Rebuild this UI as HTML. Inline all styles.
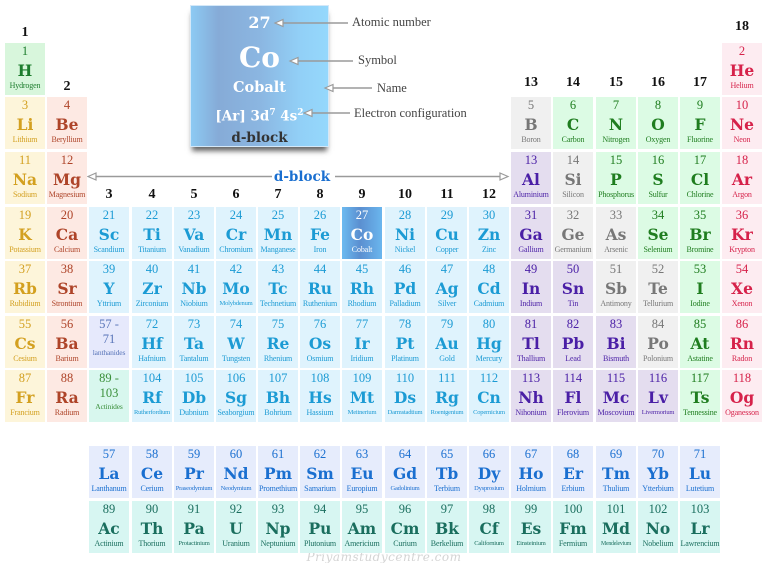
<!DOCTYPE html>
<html><head><meta charset="utf-8">
<style>
*{margin:0;padding:0;box-sizing:border-box}
body{width:768px;height:563px;background:#fff;position:relative;overflow:hidden;font-family:"DejaVu Serif","Liberation Serif",serif}
.c{position:absolute;width:40px;height:52px;text-align:center}
.c span{position:absolute;left:-2px;right:-2px;display:block;white-space:nowrap}
.n{top:1px;font-family:"Liberation Serif",serif;font-size:12.5px;line-height:14px}
.s{top:18px;font-size:15.5px;font-weight:bold;line-height:20px}
.m{top:38px;font-family:"Liberation Serif",serif;font-size:8px;line-height:10px;letter-spacing:-0.15px}
.m.sm{font-size:6.5px;letter-spacing:-0.2px}
.h{background:#d8f6dc;color:#1d7d2d}
.al{background:#fdf5da;color:#d3a020}
.ae{background:#fde9e3;color:#ae4429}
.tm{background:#dff3fd;color:#1c9bd4}
.co{background:linear-gradient(to right,#6cbaf0,#5b8fd0 45%,#6ab6ee);color:#fff}
.pt{background:#e4ddef;color:#4a1fa6}
.md{background:#f0f0f0;color:#777}
.nm{background:#dcfbe4;color:#1f7d1f}
.ng{background:#fdecf1;color:#d6224a}
.la{background:#e6ecfc;color:#1a6fd0}
.ac{background:#d7f6f2;color:#1a6e5e}
.lph{background:#e6e9fc;color:#5874b8}
.aph{background:#d8f7ee;color:#3a8f3a}
.g{position:absolute;width:40px;text-align:center;font-family:"Liberation Serif",serif;font-weight:bold;font-size:14px;line-height:16px;color:#111}
.lg{position:absolute;left:190px;top:5px;width:139px;height:142px;border:1px solid #d4e8f8;background:linear-gradient(to right,#8ccaf3 0%,#86abd7 20%,#8bb6e1 50%,#92d0f7 80%,#95d8fc 100%);box-shadow:0 6px 5px -2px rgba(50,50,50,.75);color:#fff;text-align:center;font-weight:bold}
.lg div{position:absolute;left:0;right:0;white-space:nowrap}
.ann{position:absolute;font-family:"Liberation Serif",serif;font-size:12.5px;color:#444;line-height:14px;white-space:nowrap}
</style></head><body>

<!-- legend -->
<div class="lg">
<div style="top:7px;font-size:16px;line-height:20px">27</div>
<div style="top:35px;font-size:28px;line-height:34px">Co</div>
<div style="top:73px;font-size:14.5px;line-height:18px">Cobalt</div>
<div style="top:98px;font-size:13.5px;line-height:18px">[Ar] 3d<sup style="font-size:9px">7</sup> 4s<sup style="font-size:9px">2</sup></div>
<div style="top:123px;font-size:13.5px;line-height:18px;color:#333">d-block</div>
</div>
<div class="ann" style="left:352px;top:15px">Atomic number</div>
<div class="ann" style="left:358px;top:53px">Symbol</div>
<div class="ann" style="left:377px;top:81px">Name</div>
<div class="ann" style="left:354px;top:106px">Electron configuration</div>

<svg style="position:absolute;left:0;top:0" width="768" height="563">
<g stroke="#9a9a9a" stroke-width="1.5" fill="none">
<line x1="282" y1="23" x2="348" y2="23"/>
<line x1="297" y1="61" x2="353" y2="61"/>
<line x1="332" y1="88" x2="372" y2="88"/>
<line x1="311" y1="113" x2="350" y2="113"/>
<line x1="95" y1="176.5" x2="272" y2="176.5"/>
<line x1="335" y1="176.5" x2="501" y2="176.5"/>
</g>
<g stroke="#9a9a9a" stroke-width="1.2" fill="#fff">
<polygon points="275,23 283,19.5 283,26.5"/>
<polygon points="290,61 298,57.5 298,64.5"/>
<polygon points="325,88 333,84.5 333,91.5"/>
<polygon points="304,113 312,109.5 312,116.5"/>
<polygon points="88,176.5 96,173 96,180"/>
<polygon points="508,176.5 500,173 500,180"/>
</g>
<text x="302" y="181" text-anchor="middle" font-family="DejaVu Serif" font-weight="bold" font-size="13.5" fill="#1a6fd0">d-block</text>
<text x="384" y="561" text-anchor="middle" font-family="DejaVu Serif" font-style="italic" font-size="12" fill="#d4d4d4" letter-spacing="0.5">Priyamstudycentre.com</text>
</svg>

<!-- group labels -->
<div class="g" style="left:5px;top:25px">1</div>
<div class="g" style="left:47px;top:79px">2</div>
<div class="g" style="left:89px;top:187px">3</div>
<div class="g" style="left:132px;top:187px">4</div>
<div class="g" style="left:174px;top:187px">5</div>
<div class="g" style="left:216px;top:187px">6</div>
<div class="g" style="left:258px;top:187px">7</div>
<div class="g" style="left:300px;top:187px">8</div>
<div class="g" style="left:342px;top:187px">9</div>
<div class="g" style="left:385px;top:187px">10</div>
<div class="g" style="left:427px;top:187px">11</div>
<div class="g" style="left:469px;top:187px">12</div>
<div class="g" style="left:511px;top:75px">13</div>
<div class="g" style="left:553px;top:75px">14</div>
<div class="g" style="left:596px;top:75px">15</div>
<div class="g" style="left:638px;top:75px">16</div>
<div class="g" style="left:680px;top:75px">17</div>
<div class="g" style="left:722px;top:19px">18</div>

<!-- row 1 -->
<div class="c h" style="left:5px;top:43px"><span class="n">1</span><span class="s">H</span><span class="m">Hydrogen</span></div>
<div class="c ng" style="left:722px;top:43px"><span class="n">2</span><span class="s">He</span><span class="m">Helium</span></div>

<!-- row 2 -->
<div class="c al" style="left:5px;top:97px"><span class="n">3</span><span class="s">Li</span><span class="m">Lithium</span></div>
<div class="c ae" style="left:47px;top:97px"><span class="n">4</span><span class="s">Be</span><span class="m">Beryllium</span></div>
<div class="c md" style="left:511px;top:97px"><span class="n">5</span><span class="s">B</span><span class="m">Boron</span></div>
<div class="c nm" style="left:553px;top:97px"><span class="n">6</span><span class="s">C</span><span class="m">Carbon</span></div>
<div class="c nm" style="left:596px;top:97px"><span class="n">7</span><span class="s">N</span><span class="m">Nitrogen</span></div>
<div class="c nm" style="left:638px;top:97px"><span class="n">8</span><span class="s">O</span><span class="m">Oxygen</span></div>
<div class="c nm" style="left:680px;top:97px"><span class="n">9</span><span class="s">F</span><span class="m">Fluorine</span></div>
<div class="c ng" style="left:722px;top:97px"><span class="n">10</span><span class="s">Ne</span><span class="m">Neon</span></div>

<!-- row 3 -->
<div class="c al" style="left:5px;top:152px"><span class="n">11</span><span class="s">Na</span><span class="m">Sodium</span></div>
<div class="c ae" style="left:47px;top:152px"><span class="n">12</span><span class="s">Mg</span><span class="m">Magnesium</span></div>
<div class="c pt" style="left:511px;top:152px"><span class="n">13</span><span class="s">Al</span><span class="m">Aluminium</span></div>
<div class="c md" style="left:553px;top:152px"><span class="n">14</span><span class="s">Si</span><span class="m">Silicon</span></div>
<div class="c nm" style="left:596px;top:152px"><span class="n">15</span><span class="s">P</span><span class="m">Phosphorus</span></div>
<div class="c nm" style="left:638px;top:152px"><span class="n">16</span><span class="s">S</span><span class="m">Sulfur</span></div>
<div class="c nm" style="left:680px;top:152px"><span class="n">17</span><span class="s">Cl</span><span class="m">Chlorine</span></div>
<div class="c ng" style="left:722px;top:152px"><span class="n">18</span><span class="s">Ar</span><span class="m">Argon</span></div>

<!-- row 4 -->
<div class="c al" style="left:5px;top:207px"><span class="n">19</span><span class="s">K</span><span class="m">Potassium</span></div>
<div class="c ae" style="left:47px;top:207px"><span class="n">20</span><span class="s">Ca</span><span class="m">Calcium</span></div>
<div class="c tm" style="left:89px;top:207px"><span class="n">21</span><span class="s">Sc</span><span class="m">Scandium</span></div>
<div class="c tm" style="left:132px;top:207px"><span class="n">22</span><span class="s">Ti</span><span class="m">Titanium</span></div>
<div class="c tm" style="left:174px;top:207px"><span class="n">23</span><span class="s">Va</span><span class="m">Vanadium</span></div>
<div class="c tm" style="left:216px;top:207px"><span class="n">24</span><span class="s">Cr</span><span class="m">Chromium</span></div>
<div class="c tm" style="left:258px;top:207px"><span class="n">25</span><span class="s">Mn</span><span class="m">Manganese</span></div>
<div class="c tm" style="left:300px;top:207px"><span class="n">26</span><span class="s">Fe</span><span class="m">Iron</span></div>
<div class="c co" style="left:342px;top:207px"><span class="n">27</span><span class="s">Co</span><span class="m">Cobalt</span></div>
<div class="c tm" style="left:385px;top:207px"><span class="n">28</span><span class="s">Ni</span><span class="m">Nickel</span></div>
<div class="c tm" style="left:427px;top:207px"><span class="n">29</span><span class="s">Cu</span><span class="m">Copper</span></div>
<div class="c tm" style="left:469px;top:207px"><span class="n">30</span><span class="s">Zn</span><span class="m">Zinc</span></div>
<div class="c pt" style="left:511px;top:207px"><span class="n">31</span><span class="s">Ga</span><span class="m">Gallium</span></div>
<div class="c md" style="left:553px;top:207px"><span class="n">32</span><span class="s">Ge</span><span class="m">Germanium</span></div>
<div class="c md" style="left:596px;top:207px"><span class="n">33</span><span class="s">As</span><span class="m">Arsenic</span></div>
<div class="c nm" style="left:638px;top:207px"><span class="n">34</span><span class="s">Se</span><span class="m">Selenium</span></div>
<div class="c nm" style="left:680px;top:207px"><span class="n">35</span><span class="s">Br</span><span class="m">Bromine</span></div>
<div class="c ng" style="left:722px;top:207px"><span class="n">36</span><span class="s">Kr</span><span class="m">Krypton</span></div>

<!-- row 5 -->
<div class="c al" style="left:5px;top:261px"><span class="n">37</span><span class="s">Rb</span><span class="m">Rubidium</span></div>
<div class="c ae" style="left:47px;top:261px"><span class="n">38</span><span class="s">Sr</span><span class="m">Strontium</span></div>
<div class="c tm" style="left:89px;top:261px"><span class="n">39</span><span class="s">Y</span><span class="m">Yttrium</span></div>
<div class="c tm" style="left:132px;top:261px"><span class="n">40</span><span class="s">Zr</span><span class="m">Zirconium</span></div>
<div class="c tm" style="left:174px;top:261px"><span class="n">41</span><span class="s">Nb</span><span class="m">Niobium</span></div>
<div class="c tm" style="left:216px;top:261px"><span class="n">42</span><span class="s">Mo</span><span class="m sm">Molybdenum</span></div>
<div class="c tm" style="left:258px;top:261px"><span class="n">43</span><span class="s">Tc</span><span class="m">Technetium</span></div>
<div class="c tm" style="left:300px;top:261px"><span class="n">44</span><span class="s">Ru</span><span class="m">Ruthenium</span></div>
<div class="c tm" style="left:342px;top:261px"><span class="n">45</span><span class="s">Rh</span><span class="m">Rhodium</span></div>
<div class="c tm" style="left:385px;top:261px"><span class="n">46</span><span class="s">Pd</span><span class="m">Palladium</span></div>
<div class="c tm" style="left:427px;top:261px"><span class="n">47</span><span class="s">Ag</span><span class="m">Silver</span></div>
<div class="c tm" style="left:469px;top:261px"><span class="n">48</span><span class="s">Cd</span><span class="m">Cadmium</span></div>
<div class="c pt" style="left:511px;top:261px"><span class="n">49</span><span class="s">In</span><span class="m">Indium</span></div>
<div class="c pt" style="left:553px;top:261px"><span class="n">50</span><span class="s">Sn</span><span class="m">Tin</span></div>
<div class="c md" style="left:596px;top:261px"><span class="n">51</span><span class="s">Sb</span><span class="m">Antimony</span></div>
<div class="c md" style="left:638px;top:261px"><span class="n">52</span><span class="s">Te</span><span class="m">Tellurium</span></div>
<div class="c nm" style="left:680px;top:261px"><span class="n">53</span><span class="s">I</span><span class="m">Iodine</span></div>
<div class="c ng" style="left:722px;top:261px"><span class="n">54</span><span class="s">Xe</span><span class="m">Xenon</span></div>

<!-- row 6 -->
<div class="c al" style="left:5px;top:316px"><span class="n">55</span><span class="s">Cs</span><span class="m">Cesium</span></div>
<div class="c ae" style="left:47px;top:316px"><span class="n">56</span><span class="s">Ba</span><span class="m">Barium</span></div>
<div class="c lph" style="left:89px;top:316px"><span class="n">57 -</span><span class="n" style="top:16px">71</span><span class="m" style="top:32px;font-size:7.5px">lanthanides</span></div>
<div class="c tm" style="left:132px;top:316px"><span class="n">72</span><span class="s">Hf</span><span class="m">Hafnium</span></div>
<div class="c tm" style="left:174px;top:316px"><span class="n">73</span><span class="s">Ta</span><span class="m">Tantalum</span></div>
<div class="c tm" style="left:216px;top:316px"><span class="n">74</span><span class="s">W</span><span class="m">Tungsten</span></div>
<div class="c tm" style="left:258px;top:316px"><span class="n">75</span><span class="s">Re</span><span class="m">Rhenium</span></div>
<div class="c tm" style="left:300px;top:316px"><span class="n">76</span><span class="s">Os</span><span class="m">Osmium</span></div>
<div class="c tm" style="left:342px;top:316px"><span class="n">77</span><span class="s">Ir</span><span class="m">Iridium</span></div>
<div class="c tm" style="left:385px;top:316px"><span class="n">78</span><span class="s">Pt</span><span class="m">Platinum</span></div>
<div class="c tm" style="left:427px;top:316px"><span class="n">79</span><span class="s">Au</span><span class="m">Gold</span></div>
<div class="c tm" style="left:469px;top:316px"><span class="n">80</span><span class="s">Hg</span><span class="m">Mercury</span></div>
<div class="c pt" style="left:511px;top:316px"><span class="n">81</span><span class="s">Tl</span><span class="m">Thallium</span></div>
<div class="c pt" style="left:553px;top:316px"><span class="n">82</span><span class="s">Pb</span><span class="m">Lead</span></div>
<div class="c pt" style="left:596px;top:316px"><span class="n">83</span><span class="s">Bi</span><span class="m">Bismuth</span></div>
<div class="c md" style="left:638px;top:316px"><span class="n">84</span><span class="s">Po</span><span class="m">Polonium</span></div>
<div class="c nm" style="left:680px;top:316px"><span class="n">85</span><span class="s">At</span><span class="m">Astatine</span></div>
<div class="c ng" style="left:722px;top:316px"><span class="n">86</span><span class="s">Rn</span><span class="m">Radon</span></div>

<!-- row 7 -->
<div class="c al" style="left:5px;top:370px"><span class="n">87</span><span class="s">Fr</span><span class="m">Francium</span></div>
<div class="c ae" style="left:47px;top:370px"><span class="n">88</span><span class="s">Ra</span><span class="m">Radium</span></div>
<div class="c aph" style="left:89px;top:370px"><span class="n">89 -</span><span class="n" style="top:16px">103</span><span class="m" style="top:32px;font-size:7.5px">Actinides</span></div>
<div class="c tm" style="left:132px;top:370px"><span class="n">104</span><span class="s">Rf</span><span class="m sm">Rutherfordium</span></div>
<div class="c tm" style="left:174px;top:370px"><span class="n">105</span><span class="s">Db</span><span class="m">Dubnium</span></div>
<div class="c tm" style="left:216px;top:370px"><span class="n">106</span><span class="s">Sg</span><span class="m">Seaborgium</span></div>
<div class="c tm" style="left:258px;top:370px"><span class="n">107</span><span class="s">Bh</span><span class="m">Bohrium</span></div>
<div class="c tm" style="left:300px;top:370px"><span class="n">108</span><span class="s">Hs</span><span class="m">Hassium</span></div>
<div class="c tm" style="left:342px;top:370px"><span class="n">109</span><span class="s">Mt</span><span class="m sm">Meitnerium</span></div>
<div class="c tm" style="left:385px;top:370px"><span class="n">110</span><span class="s">Ds</span><span class="m sm">Darmstadtium</span></div>
<div class="c tm" style="left:427px;top:370px"><span class="n">111</span><span class="s">Rg</span><span class="m sm">Roentgenium</span></div>
<div class="c tm" style="left:469px;top:370px"><span class="n">112</span><span class="s">Cn</span><span class="m sm">Copernicium</span></div>
<div class="c pt" style="left:511px;top:370px"><span class="n">113</span><span class="s">Nh</span><span class="m">Nihonium</span></div>
<div class="c pt" style="left:553px;top:370px"><span class="n">114</span><span class="s">Fl</span><span class="m">Flerovium</span></div>
<div class="c pt" style="left:596px;top:370px"><span class="n">115</span><span class="s">Mc</span><span class="m">Moscovium</span></div>
<div class="c pt" style="left:638px;top:370px"><span class="n">116</span><span class="s">Lv</span><span class="m sm">Livermorium</span></div>
<div class="c nm" style="left:680px;top:370px"><span class="n">117</span><span class="s">Ts</span><span class="m">Tennessine</span></div>
<div class="c ng" style="left:722px;top:370px"><span class="n">118</span><span class="s">Og</span><span class="m">Oganesson</span></div>

<!-- lanthanides -->
<div class="c la" style="left:89px;top:446px"><span class="n">57</span><span class="s">La</span><span class="m">Lanthanum</span></div>
<div class="c la" style="left:132px;top:446px"><span class="n">58</span><span class="s">Ce</span><span class="m">Cerium</span></div>
<div class="c la" style="left:174px;top:446px"><span class="n">59</span><span class="s">Pr</span><span class="m sm">Praseodymium</span></div>
<div class="c la" style="left:216px;top:446px"><span class="n">60</span><span class="s">Nd</span><span class="m sm">Neodymium</span></div>
<div class="c la" style="left:258px;top:446px"><span class="n">61</span><span class="s">Pm</span><span class="m">Promethium</span></div>
<div class="c la" style="left:300px;top:446px"><span class="n">62</span><span class="s">Sm</span><span class="m">Samarium</span></div>
<div class="c la" style="left:342px;top:446px"><span class="n">63</span><span class="s">Eu</span><span class="m">Europium</span></div>
<div class="c la" style="left:385px;top:446px"><span class="n">64</span><span class="s">Gd</span><span class="m sm">Gadolinium</span></div>
<div class="c la" style="left:427px;top:446px"><span class="n">65</span><span class="s">Tb</span><span class="m">Terbium</span></div>
<div class="c la" style="left:469px;top:446px"><span class="n">66</span><span class="s">Dy</span><span class="m sm">Dysprosium</span></div>
<div class="c la" style="left:511px;top:446px"><span class="n">67</span><span class="s">Ho</span><span class="m">Holmium</span></div>
<div class="c la" style="left:553px;top:446px"><span class="n">68</span><span class="s">Er</span><span class="m">Erbium</span></div>
<div class="c la" style="left:596px;top:446px"><span class="n">69</span><span class="s">Tm</span><span class="m">Thulium</span></div>
<div class="c la" style="left:638px;top:446px"><span class="n">70</span><span class="s">Yb</span><span class="m">Ytterbium</span></div>
<div class="c la" style="left:680px;top:446px"><span class="n">71</span><span class="s">Lu</span><span class="m">Lutetium</span></div>

<!-- actinides -->
<div class="c ac" style="left:89px;top:501px"><span class="n">89</span><span class="s">Ac</span><span class="m">Actinium</span></div>
<div class="c ac" style="left:132px;top:501px"><span class="n">90</span><span class="s">Th</span><span class="m">Thorium</span></div>
<div class="c ac" style="left:174px;top:501px"><span class="n">91</span><span class="s">Pa</span><span class="m sm">Protactinium</span></div>
<div class="c ac" style="left:216px;top:501px"><span class="n">92</span><span class="s">U</span><span class="m">Uranium</span></div>
<div class="c ac" style="left:258px;top:501px"><span class="n">93</span><span class="s">Np</span><span class="m">Neptunium</span></div>
<div class="c ac" style="left:300px;top:501px"><span class="n">94</span><span class="s">Pu</span><span class="m">Plutonium</span></div>
<div class="c ac" style="left:342px;top:501px"><span class="n">95</span><span class="s">Am</span><span class="m">Americium</span></div>
<div class="c ac" style="left:385px;top:501px"><span class="n">96</span><span class="s">Cm</span><span class="m">Curium</span></div>
<div class="c ac" style="left:427px;top:501px"><span class="n">97</span><span class="s">Bk</span><span class="m">Berkelium</span></div>
<div class="c ac" style="left:469px;top:501px"><span class="n">98</span><span class="s">Cf</span><span class="m sm">Californium</span></div>
<div class="c ac" style="left:511px;top:501px"><span class="n">99</span><span class="s">Es</span><span class="m sm">Einsteinium</span></div>
<div class="c ac" style="left:553px;top:501px"><span class="n">100</span><span class="s">Fm</span><span class="m">Fermium</span></div>
<div class="c ac" style="left:596px;top:501px"><span class="n">101</span><span class="s">Md</span><span class="m sm" style="font-size:5.8px">Mendelevium</span></div>
<div class="c ac" style="left:638px;top:501px"><span class="n">102</span><span class="s">No</span><span class="m">Nobelium</span></div>
<div class="c ac" style="left:680px;top:501px"><span class="n">103</span><span class="s">Lr</span><span class="m">Lawrencium</span></div>

</body></html>
